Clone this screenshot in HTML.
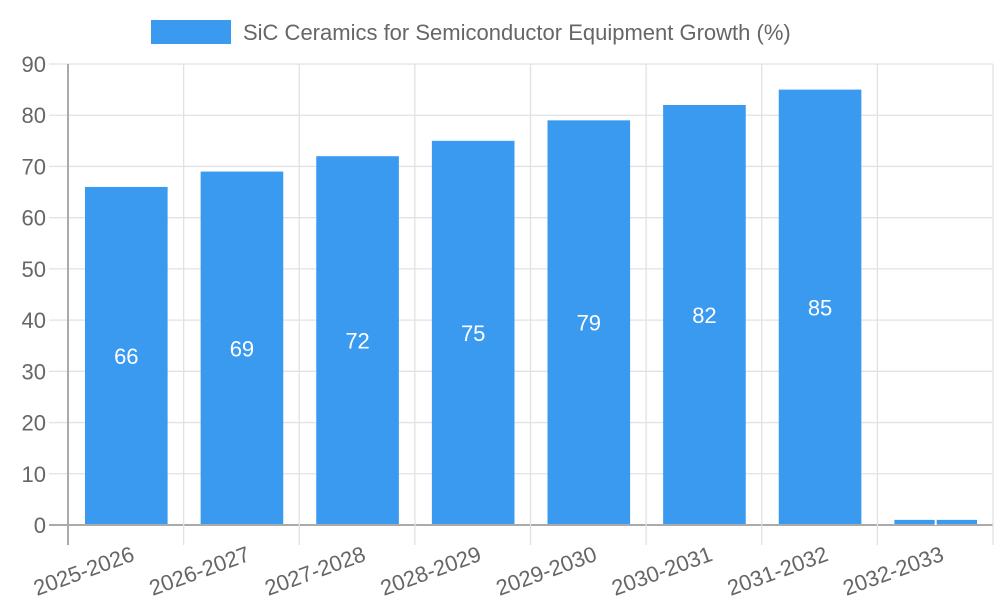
<!DOCTYPE html>
<html><head><meta charset="utf-8"><style>
body{margin:0;background:#fff;}
svg{display:block;font-family:"Liberation Sans",sans-serif;}
</style></head><body>
<svg id="chart" width="1000" height="600" viewBox="0 0 1000 600">
<g>
<rect x="151" y="20" width="80" height="24" fill="#3a9af0"/>
<text x="243" y="40" font-size="22" fill="#666">SiC Ceramics for Semiconductor Equipment Growth (%)</text>
</g>
<g id="grid"></g><g id="bars"></g><g id="labels"></g>
</svg>
<script>
const categories=["2025-2026","2026-2027","2027-2028","2028-2029","2029-2030","2030-2031","2031-2032","2032-2033"];
const values=[66,69,72,75,79,82,85,1];
const yTicks=[0,10,20,30,40,50,60,70,80,90];
const NS="http://www.w3.org/2000/svg";
const L=68,R=993,T=64,B=525,ymax=90;
const bw=(R-L)/categories.length;
const y=v=>B-(v/ymax)*(B-T);
const x=i=>L+i*bw;
function mk(tag,attrs,parent,text){const e=document.createElementNS(NS,tag);for(const k in attrs)e.setAttribute(k,attrs[k]);if(text!==undefined)e.textContent=text;document.getElementById(parent).appendChild(e);return e;}
yTicks.forEach(t=>{
 const l=mk("line",{x1:49,x2:R,y1:y(t),y2:y(t),stroke:t===0?"#aaa":"#e2e2e2","stroke-width":t===0?2:1.3},"grid");
 
 
 const tx=mk("text",{x:46,y:y(t)+8,"text-anchor":"end","font-size":22,fill:"#666"},"grid",t);
 
 
});
for(let i=0;i<=categories.length;i++){
 const l=mk("line",{x1:x(i),x2:x(i),y1:T,y2:B+20,stroke:i===0?"#aaa":"#e2e2e2","stroke-width":i===0?2:1.3},"grid");
 
 
}
categories.forEach((c,i)=>{
 const v=values[i],bx=x(i)+17,w=bw-33;
 const r=mk("rect",{x:bx,y:y(v),width:w,height:B-y(v)-1,fill:"#3a9af0"},"bars");
 
 
 if(v>=10){
  const t=mk("text",{x:bx+w/2,y:(y(v)+B)/2+8,"text-anchor":"middle","font-size":22,fill:"#fff"},"labels",v);
  
  
 } else {
  const d=mk("line",{x1:bx+w/2,x2:bx+w/2,y1:y(v)-1,y2:B,stroke:"#fff","stroke-width":2},"bars");
  
  
 }
 const cx=x(i)+bw/2+10;
 const t=mk("text",{x:cx,y:560,"text-anchor":"end","font-size":22,fill:"#666",transform:`rotate(-20 ${cx} 560)`},"labels",c);
 
 
});
</script>
</body></html>
